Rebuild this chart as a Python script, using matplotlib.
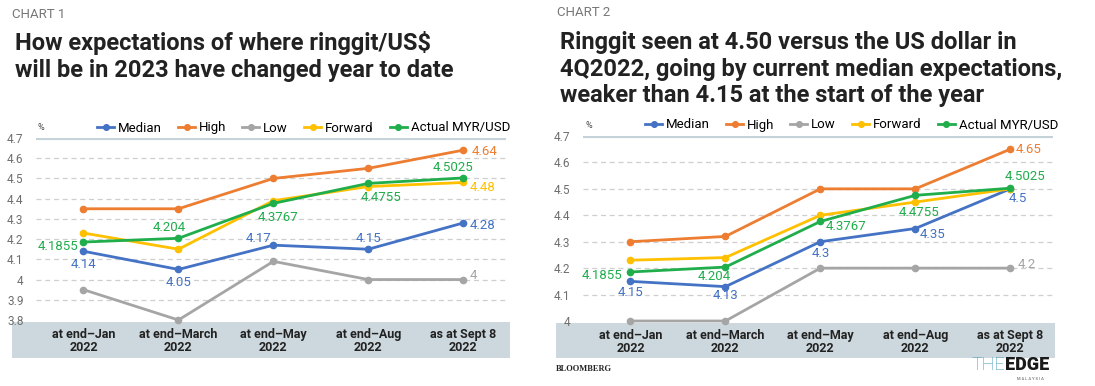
import matplotlib
matplotlib.use("Agg")
import matplotlib.pyplot as plt
from matplotlib.patches import Rectangle

W, H = 1095, 386

categories = ["at end\u2013Jan\n2022", "at end\u2013March\n2022", "at end\u2013May\n2022",
              "at end\u2013Aug\n2022", "as at Sept 8\n2022"]
series_names = ["Median", "High", "Low", "Forward", "Actual MYR/USD"]
colors = ["#4472c4", "#ed7d31", "#a5a5a5", "#ffc000", "#1fae4b"]

# chart 1 values
c1_median = [4.14, 4.05, 4.17, 4.15, 4.28]
c1_high = [4.35, 4.35, 4.50, 4.55, 4.64]
c1_low = [3.95, 3.80, 4.09, 4.00, 4.00]
c1_forward = [4.23, 4.15, 4.39, 4.46, 4.48]
c1_actual = [4.1855, 4.204, 4.3767, 4.4755, 4.5025]
c1_yticks = [3.8, 3.9, 4.0, 4.1, 4.2, 4.3, 4.4, 4.5, 4.6, 4.7]

# chart 2 values
c2_median = [4.15, 4.13, 4.30, 4.35, 4.50]
c2_high = [4.30, 4.32, 4.50, 4.50, 4.65]
c2_low = [4.0, 4.0, 4.2, 4.2, 4.2]
c2_forward = [4.23, 4.24, 4.40, 4.45, 4.50]
c2_actual = [4.1855, 4.204, 4.3767, 4.4755, 4.5025]
c2_yticks = [4.0, 4.1, 4.2, 4.3, 4.4, 4.5, 4.6, 4.7]

title1 = "How expectations of where ringgit/US$\nwill be in 2023 have changed year to date"
title2 = ("Ringgit seen at 4.50 versus the US dollar in\n4Q2022, going by current median expectations,\n"
          "weaker than 4.15 at the start of the year")

# label placement: (series index, point index, dx px, dy px, ha)
c1_labels = [(0, 0, 0, 13, "center"), (0, 1, 0, 13, "center"), (0, 2, -15, -7, "center"),
             (0, 3, 0, -11, "center"), (0, 4, 6, 3, "left"),
             (1, 4, 8, 1, "left"), (2, 4, 6, -4, "left"), (3, 4, 6, 5, "left"),
             (4, 0, -5, 4, "right"), (4, 1, -9, -11, "center"), (4, 2, 5, 14, "center"),
             (4, 3, 13, 14, "center"), (4, 4, -10, -10, "center")]
c2_labels = [(1, 4, 5, 0, "left"), (4, 4, 15, -12, "center"), (0, 4, 8, 10, "center"),
             (4, 2, 5, 5, "left"), (4, 3, 4, 17, "center"), (0, 3, 17, 6, "center"),
             (0, 2, 0, 12, "center"), (2, 4, 7, -4, "left"), (4, 0, -28, 4, "center"),
             (4, 1, -11, 9, "center"), (0, 0, 0, 11, "center"), (0, 1, 0, 9, "center")]

plt.rcParams['font.family'] = ['Roboto', 'DejaVu Sans']
fig = plt.figure(figsize=(W / 100, H / 100), dpi=100)


def box(x0, y0, x1, y1):
    return [x0 / W, 1 - y1 / H, (x1 - x0) / W, (y1 - y0) / H]


def draw_chart(ax_box, band, data, yticks, labels, legend_xy, pct_xy, chart_xy, chart_name, title):
    fig.add_artist(Rectangle((band[0] / W, 1 - band[3] / H), (band[2] - band[0]) / W,
                             (band[3] - band[1]) / H, transform=fig.transFigure,
                             facecolor="#cdd8de", edgecolor="none", zorder=0))
    ax = fig.add_axes(ax_box)
    ax.set_facecolor("none")
    x = list(range(len(categories)))
    for vals, name, col in zip(data, series_names, colors):
        ax.plot(x, vals, color=col, lw=2, marker="o", ms=4.5, label=name, clip_on=False, zorder=3)
    for s, i, dx, dy, ha in labels:
        v = data[s][i]
        ax.annotate(f"{v:g}", (i, v), xytext=(dx * 0.72, -dy * 0.72), textcoords="offset points",
                    ha=ha, va="center", color=colors[s], fontsize=9.5, zorder=4)
    ax.set_xlim(-0.5, 4.45)
    ax.set_ylim(yticks[0], yticks[-1])
    ax.set_yticks(yticks)
    ax.set_yticklabels([f"{t:g}" for t in yticks])
    for t in yticks[1:-1]:
        ax.axhline(t, color="#cfcfcf", lw=0.9, ls=(0, (4, 3)), zorder=1)
    ax.axhline(yticks[-1], color="#c6d2da", lw=3, zorder=1)
    ax.set_xticks(x)
    ax.set_xticklabels(categories, fontweight="bold", fontsize=9, color="#222222", linespacing=1.0)
    ax.tick_params(axis="x", length=0, pad=6)
    ax.tick_params(axis="y", length=0, pad=9, labelsize=8.5, labelcolor="#6f6f6f")
    for sp in ax.spines.values():
        sp.set_visible(False)
    ax.legend(loc="center right", bbox_to_anchor=(legend_xy[0] / W, 1 - legend_xy[1] / H),
              bbox_transform=fig.transFigure, ncol=5, frameon=False, fontsize=9.5,
              handlelength=1.3, handletextpad=0.3, columnspacing=1.2, markerscale=0.9,
              borderaxespad=0, borderpad=0)
    fig.text(pct_xy[0] / W, 1 - pct_xy[1] / H, "%", fontsize=6.5, color="#444444", va="center")
    fig.text(chart_xy[0] / W, 1 - chart_xy[1] / H, chart_name, fontsize=9.5, color="#777777", va="center")
    fig.text(chart_xy[0] / W + 3 / W, 1 - 31 / H, title, fontsize=17, fontweight="bold",
             color="#222222", va="top", linespacing=1.2)
    return ax


draw_chart(box(36, 138, 506, 320), (12, 322, 510, 358),
           [c1_median, c1_high, c1_low, c1_forward, c1_actual], c1_yticks, c1_labels,
           (510, 128), (38, 128), (12, 15), "CHART 1", title1)
draw_chart(box(583, 136, 1053, 321), (556, 323, 1055, 358),
           [c2_median, c2_high, c2_low, c2_forward, c2_actual], c2_yticks, c2_labels,
           (1058, 125), (586, 125), (557, 13), "CHART 2", title2)

fig.text(556 / W, 1 - 369 / H, "BLOOMBERG", family="Liberation Serif", fontweight="bold",
         fontsize=6, color="#222222", va="center")
fig.text(1005 / W, 1 - 365 / H, "THE", fontsize=13, color="#3f98b5", va="center", ha="right",
         fontweight="light")
fig.text(1005 / W, 1 - 365 / H, "EDGE", fontsize=13, fontweight="heavy", color="#1a1a1a",
         va="center", ha="left")
fig.text(1030 / W, 1 - 379 / H, "M A L A Y S I A", fontsize=3, color="#555555", va="center", ha="center")

fig.savefig("out.png", dpi=100)
